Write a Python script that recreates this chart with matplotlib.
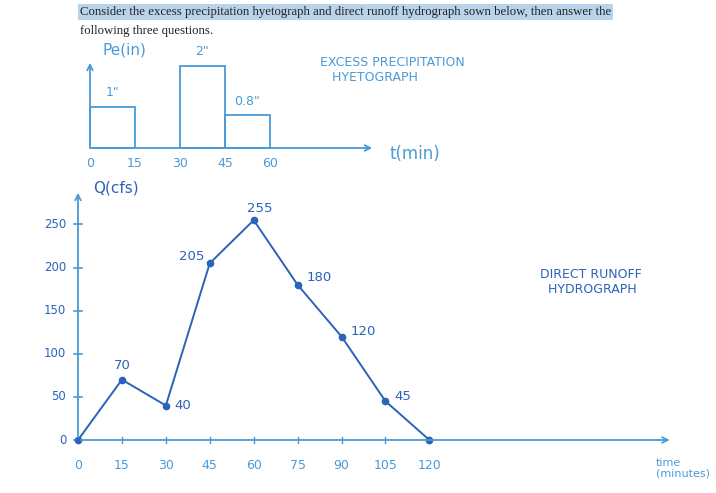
import matplotlib

matplotlib.use("Agg")
import matplotlib.pyplot as plt

# hyetograph data
pe_start = [0, 30, 45]
pe_width = [15, 15, 15]
pe_depth = [1.0, 2.0, 0.8]
pe_labels = ['1"', '2"', '0.8"']
pe_ticks = [0, 15, 30, 45, 60]

# hydrograph data
q_time = [0, 15, 30, 45, 60, 75, 90, 105, 120]
q_flow = [0, 70, 40, 205, 255, 180, 120, 45, 0]
q_ticks_x = [0, 15, 30, 45, 60, 75, 90, 105, 120]
q_ticks_y = [0, 50, 100, 150, 200, 250]

LIGHT = "#4a9ad8"
DARK = "#2a63b8"
W, H = 716, 493

fig = plt.figure(figsize=(W / 100, H / 100), dpi=100)


def box(left, top, right, bottom):
    # pixel box -> figure fraction
    return [left / W, 1 - bottom / H, (right - left) / W, (bottom - top) / H]


# header text
fig.text(80 / W, 1 - 12 / H,
         "Consider the excess precipitation hyetograph and direct runoff hydrograph sown below, then answer the",
         family="Liberation Serif", fontsize=9.2, va="center", ha="left", color="#222222",
         bbox=dict(boxstyle="square,pad=0.15", facecolor="#b9d3ea", edgecolor="none"))
fig.text(80 / W, 1 - 31 / H, "following three questions.",
         family="Liberation Serif", fontsize=9.2, va="center", ha="left", color="#222222")

# ---- hyetograph ----
ax1 = fig.add_axes(box(90, 60, 375, 148))
ax1.set_xlim(0, 95)
ax1.set_ylim(0, 2.14)
ax1.axis("off")
ax1.bar(pe_start, pe_depth, width=pe_width, align="edge", fill=False,
        edgecolor=LIGHT, linewidth=1.3, clip_on=False)
ax1.annotate("", xy=(95, 0), xytext=(0, 0),
             arrowprops=dict(arrowstyle="->", color=LIGHT, lw=1.3), annotation_clip=False)
ax1.annotate("", xy=(0, 2.14), xytext=(0, 0),
             arrowprops=dict(arrowstyle="->", color=LIGHT, lw=1.3), annotation_clip=False)
for s, w, d, lab in zip(pe_start, pe_width, pe_depth, pe_labels):
    ax1.text(s + w / 2, d + 0.18, lab, color=LIGHT, fontsize=9, ha="center", va="bottom")
for t in pe_ticks:
    ax1.text(t, -0.38, str(t), color=LIGHT, fontsize=9, ha="center", va="center")
ax1.text(4, 2.2, "Pe(in)", color=LIGHT, fontsize=11, ha="left", va="bottom")
ax1.text(100, -0.15, "t(min)", color=LIGHT, fontsize=12, ha="left", va="center")
fig.text(320 / W, 1 - 70 / H, "EXCESS PRECIPITATION\n   HYETOGRAPH", color=LIGHT,
         fontsize=9, ha="left", va="center", linespacing=1.2)

# ---- hydrograph ----
ax2 = fig.add_axes(box(78, 190, 690, 440))
ax2.set_xlim(0, 209)
ax2.set_ylim(0, 290)
ax2.axis("off")
ax2.annotate("", xy=(203, 0), xytext=(0, 0),
             arrowprops=dict(arrowstyle="->", color=LIGHT, lw=1.3), annotation_clip=False)
ax2.annotate("", xy=(0, 290), xytext=(0, 0),
             arrowprops=dict(arrowstyle="->", color=LIGHT, lw=1.3), annotation_clip=False)
for y in q_ticks_y:
    ax2.plot([-1.5, 1.5], [y, y], color=LIGHT, lw=1.2, clip_on=False)
    ax2.text(-4, y, str(y), color=DARK, fontsize=8.5, ha="right", va="center")
for x in q_ticks_x:
    ax2.plot([x, x], [-4, 4], color=LIGHT, lw=1.0, clip_on=False)
    ax2.text(x, -30, str(x), color=LIGHT, fontsize=9, ha="center", va="center")

ax2.plot(q_time, q_flow, color=DARK, lw=1.4, marker="o", markersize=4.5,
         markerfacecolor=DARK, clip_on=False)

# point labels: (dx, dy, ha)
offsets = [None, (0, 16, "center"), (3, 0, "left"), (-2, 8, "right"), (2, 14, "center"),
           (3, 8, "left"), (3, 6, "left"), (3, 6, "left"), None]
for t, q, off in zip(q_time, q_flow, offsets):
    if off is None:
        continue
    dx, dy, ha = off
    ax2.text(t + dx, q + dy, str(q), color=DARK, fontsize=9.5, ha=ha, va="center")

ax2.text(5, 292, "Q(cfs)", color=DARK, fontsize=11, ha="left", va="center")
fig.text(540 / W, 1 - 282 / H, "DIRECT RUNOFF\n  HYDROGRAPH", color=DARK,
         fontsize=9, ha="left", va="center", linespacing=1.2)
fig.text(710 / W, 1 - 468 / H, "time\n(minutes)", color=LIGHT, fontsize=8,
         ha="right", va="center", linespacing=1.0, multialignment="left")

fig.savefig("out.png", dpi=100)
